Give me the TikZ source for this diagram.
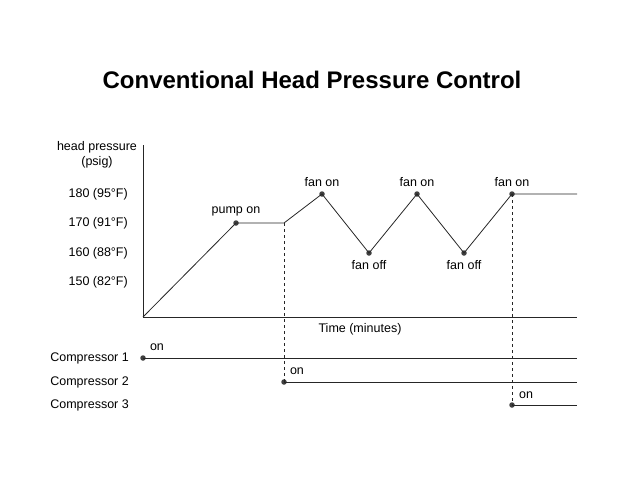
\documentclass[tikz,border=0pt]{standalone}
\usepackage{fontspec}
\setmainfont{Liberation Sans}
\usetikzlibrary{positioning, calc}
\begin{document}
\begin{tikzpicture}[x=1pt,y=-1pt,
    lbl/.style={font=\fontsize{12.5}{15}\selectfont, inner sep=1pt},
    pt/.style={circle, fill=black!75, inner sep=0pt, minimum size=5.5pt},
    ln/.style={draw=black!85, line width=0.8pt}]
    \useasboundingbox (0,0) rectangle (638,479);

    \node (title) at (312,80) {\fontsize{24}{28}\selectfont\bfseries Conventional Head Pressure Control};

    % axes
    \coordinate (top) at (143,145);
    \coordinate (o) at (143,317);
    \coordinate (xend) at (577,317);
    \draw[ln] (top) -- (o) -- (xend);
    \node[lbl] (time) at (360,329) {Time (minutes)};

    \node[lbl, align=center] (ylab) at (97,155) {head pressure\\(psig)};
    \node[lbl, anchor=east] (l180) at (129,194) {180 (95°F)};
    \node[lbl, anchor=east] (l170) at (129,223) {170 (91°F)};
    \node[lbl, anchor=east] (l160) at (129,253) {160 (88°F)};
    \node[lbl, anchor=east] (l150) at (129,282) {150 (82°F)};

    % pressure curve
    \node[pt] (pump) at (236,223) {};
    \coordinate (c2) at (284,223);
    \node[pt] (on1) at (322,194) {};
    \node[pt] (off1) at (369,253) {};
    \node[pt] (on2) at (417,194) {};
    \node[pt] (off2) at (464,253) {};
    \node[pt] (on3) at (512,194) {};
    \coordinate (end) at (577,194);
    \draw[ln] (o) -- (pump.center) -- (c2) -- (on1.center) -- (off1.center)
        -- (on2.center) -- (off2.center) -- (on3.center) -- (end);

    \node[lbl, above=3pt of pump] {pump on};
    \node[lbl, above=3pt of on1] {fan on};
    \node[lbl, above=3pt of on2] {fan on};
    \node[lbl, above=3pt of on3] {fan on};
    \node[lbl, below=3pt of off1] {fan off};
    \node[lbl, below=3pt of off2] {fan off};

    % compressors
    \node[pt] (k1) at (143,358) {};
    \node[pt] (k2) at (284,382) {};
    \node[pt] (k3) at (512,405) {};
    \coordinate (k1e) at (577,358);
    \coordinate (k2e) at (577,382);
    \coordinate (k3e) at (577,405);
    \draw[ln] (k1.center) -- (k1e);
    \draw[ln] (k2.center) -- (k2e);
    \draw[ln] (k3.center) -- (k3e);
    \draw[ln, dashed] (c2) -- (k2.center);
    \draw[ln, dashed] (on3.center) -- (k3.center);

    \node[lbl] at (157,347) {on};
    \node[lbl] at (297,371) {on};
    \node[lbl] at (526,395) {on};
    \node[lbl, anchor=east] (n1) at (130,358) {Compressor 1};
    \node[lbl, anchor=east] (n2) at (130,382) {Compressor 2};
    \node[lbl, anchor=east] (n3) at (130,405) {Compressor 3};
\end{tikzpicture}
\end{document}
